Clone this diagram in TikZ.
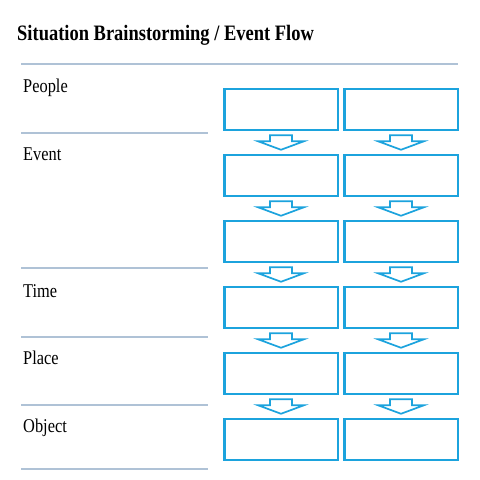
\documentclass[tikz,border=0pt]{standalone}
\usepackage{fontspec}
\setmainfont{Liberation Serif}
\newfontfamily\condfont[FakeStretch=0.84]{Liberation Serif}
\usetikzlibrary{calc}
\definecolor{boxblue}{HTML}{1CA3DD}
\definecolor{rulegrey}{HTML}{AFC2D6}
\tikzset{
  flowbox/.style={draw=boxblue, line width=2.5pt, minimum width=113.5pt, minimum height=41pt, inner sep=0pt},
  downarrow/.style={draw=boxblue, line width=1.7pt, line join=miter},
  rulestyle/.style={draw=rulegrey, line width=1.4pt},
  rowlabel/.style={anchor=base west, inner sep=0pt, font=\condfont\fontsize{19.5}{22}\selectfont},
  titlelabel/.style={anchor=base west, inner sep=0pt, font=\condfont\bfseries\fontsize{22}{26}\selectfont}
}
\newcommand{\flowarrow}[2]{%
  \draw[downarrow] ($(#1.south)+(-11,4)$) -- ($(#1.south)+(11,4)$) -- ($(#1.south)+(11,10)$) -- ($(#1.south)+(23,10)$) -- ($(#2.north)+(0,-4)$) -- ($(#1.south)+(-23,10)$) -- ($(#1.south)+(-11,10)$) -- cycle;}
\begin{document}
\begin{tikzpicture}[x=1pt, y=-1pt]
\useasboundingbox (0,0) rectangle (480,480);
\node[titlelabel] (title) at (17,40) {Situation Brainstorming / Event Flow};
\coordinate (t1) at (21,64);
\coordinate (t2) at (458,64);
\draw[rulestyle] (t1) -- (t2);
\foreach \y/\n in {133/a,268/b,337/c,405/d,469/e}{
  \coordinate (l\n1) at (21,\y);
  \coordinate (l\n2) at (208,\y);
  \draw[rulestyle] (l\n1) -- (l\n2);
}
\node[rowlabel] (people) at (23,92) {People};
\node[rowlabel] (event) at (23,160) {Event};
\node[rowlabel] (time) at (23,297) {Time};
\node[rowlabel] (place) at (23,364) {Place};
\node[rowlabel] (object) at (23,432) {Object};
\foreach \r in {1,...,6}{
  \node[flowbox] (b\r1) at (281,{109.5+66*(\r-1)}) {};
  \node[flowbox] (b\r2) at (401,{109.5+66*(\r-1)}) {};
}
\foreach \r [evaluate=\r as \s using int(\r+1)] in {1,...,5}{
  \flowarrow{b\r1}{b\s1}
  \flowarrow{b\r2}{b\s2}
}
\end{tikzpicture}
\end{document}
